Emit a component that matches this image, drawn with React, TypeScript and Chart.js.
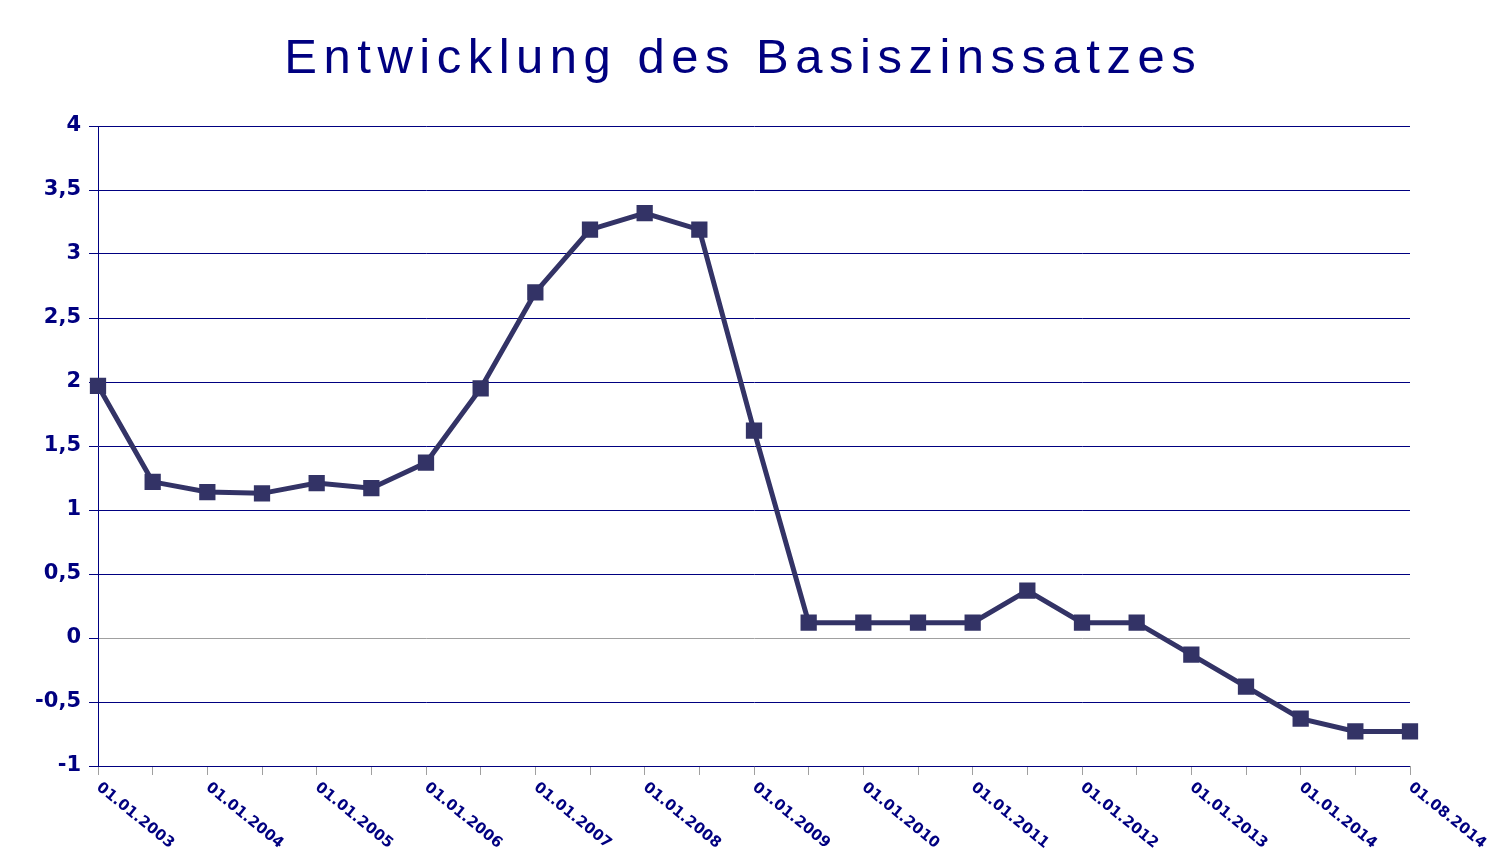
import React, { useEffect, useRef } from 'react';
import { Chart, registerables } from 'chart.js';

Chart.register(...registerables);

const TITLE = 'Entwicklung des Basiszinssatzes';

const dates = [
  '01.01.2003', '01.07.2003', '01.01.2004', '01.07.2004', '01.01.2005',
  '01.07.2005', '01.01.2006', '01.07.2006', '01.01.2007', '01.07.2007',
  '01.01.2008', '01.07.2008', '01.01.2009', '01.07.2009', '01.01.2010',
  '01.07.2010', '01.01.2011', '01.07.2011', '01.01.2012', '01.07.2012',
  '01.01.2013', '01.07.2013', '01.01.2014', '01.07.2014', '01.08.2014',
];

const rates = [
  1.97, 1.22, 1.14, 1.13, 1.21,
  1.17, 1.37, 1.95, 2.70, 3.19,
  3.32, 3.19, 1.62, 0.12, 0.12,
  0.12, 0.12, 0.37, 0.12, 0.12,
  -0.13, -0.38, -0.63, -0.73, -0.73,
];

const yMin = -1;
const yMax = 4;
const yStep = 0.5;

const NAVY = '#000080';
const LINE = '#333366';

// title + rotated date labels are drawn by hand (clockwise rotation, start at tick)
const labelsPlugin = {
  id: 'handLabels',
  afterDraw(chart: any) {
    const ctx = chart.ctx as CanvasRenderingContext2D;
    const xScale = chart.scales.x;

    ctx.save();
    ctx.fillStyle = NAVY;
    ctx.font = '49px "Liberation Sans", Arial, sans-serif';
    (ctx as any).letterSpacing = '6.5px';
    ctx.textAlign = 'left';
    ctx.textBaseline = 'alphabetic';
    const w = ctx.measureText(TITLE).width - 6.5;
    ctx.fillText(TITLE, 740 - w / 2, 73);
    ctx.restore();

    ctx.save();
    ctx.fillStyle = NAVY;
    ctx.font = 'bold 15px "DejaVu Sans", sans-serif';
    ctx.textAlign = 'left';
    ctx.textBaseline = 'top';
    dates.forEach((d, i) => {
      if (i % 2 !== 0) return;
      const x = xScale.getPixelForValue(i);
      ctx.save();
      ctx.translate(x + 5, 780);
      ctx.rotate((39 * Math.PI) / 180);
      ctx.fillText(d, 0, 0);
      ctx.restore();
    });
    ctx.restore();
  },
};

const BasiszinsChart: React.FC = () => {
  const canvasRef = useRef<HTMLCanvasElement>(null);

  useEffect(() => {
    if (!canvasRef.current) return;
    const chart = new Chart(canvasRef.current, {
      type: 'line',
      data: {
        labels: dates,
        datasets: [
          {
            label: 'Basiszinssatz',
            data: rates,
            borderColor: LINE,
            backgroundColor: LINE,
            borderWidth: 5,
            pointStyle: 'rect',
            pointRadius: 11.5,
            pointBorderWidth: 0,
            pointBackgroundColor: LINE,
            tension: 0,
            fill: false,
          },
        ],
      },
      options: {
        animation: false,
        responsive: true,
        maintainAspectRatio: false,
        layout: { padding: { top: 126, left: 0, right: 88, bottom: 0 } },
        plugins: {
          legend: { display: false },
          title: { display: false },
          tooltip: { enabled: false },
        },
        scales: {
          x: {
            type: 'category',
            offset: false,
            grid: {
              drawOnChartArea: false,
              drawTicks: true,
              tickLength: 9,
              color: '#a0a0a0',
              offset: false,
            },
            border: { display: false },
            ticks: { display: false },
            afterFit: (s: any) => {
              s.height = 89;
            },
          },
          y: {
            min: yMin,
            max: yMax,
            ticks: {
              stepSize: yStep,
              color: NAVY,
              padding: 8,
              font: { family: '"DejaVu Sans", sans-serif', size: 21, weight: 'bold' },
              callback: (v: any) => String(v).replace('.', ','),
            },
            grid: {
              color: (c: any) => (c.tick && c.tick.value === 0 ? '#a0a0a0' : NAVY),
              tickColor: NAVY,
              tickLength: 9,
              lineWidth: 1,
            },
            border: { display: true, color: NAVY, width: 1 },
            afterFit: (s: any) => {
              s.width = 98;
            },
          },
        },
      },
      plugins: [labelsPlugin],
    } as any);
    return () => chart.destroy();
  }, []);

  return <canvas ref={canvasRef}></canvas>;
};

export default function App() {
  return (
    <div
      style={{
        position: 'fixed',
        left: 0,
        top: 0,
        width: 1498,
        height: 855,
        background: '#ffffff',
      }}
    >
      <BasiszinsChart />
    </div>
  );
}
